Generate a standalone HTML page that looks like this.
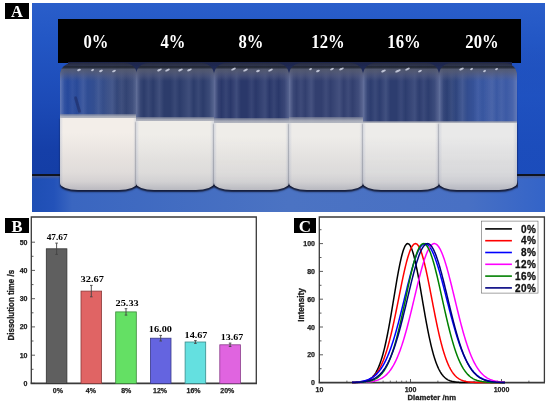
<!DOCTYPE html>
<html><head><meta charset="utf-8"><style>
*{margin:0;padding:0;box-sizing:border-box}
html,body{width:550px;height:404px;overflow:hidden;background:#fff}
body{position:relative;font-family:"Liberation Sans",Arial,sans-serif}
.tag{position:absolute;background:#000;color:#fff;font-family:"Liberation Serif",serif;font-weight:bold;text-align:center}
#photo{position:absolute;left:31.6px;top:3.3px;width:513.9px;height:208.7px;overflow:hidden;
 background:linear-gradient(180deg,#2a5eca 0%,#2357c5 17%,#1c4ab6 48%,#153fa8 70%,#143ea6 82%)}
#table{position:absolute;left:0;top:170.6px;width:100%;height:40px;background:linear-gradient(180deg,#10141f 0,#10141f 1.8px,rgba(80,95,140,.8) 2.4px,rgba(0,0,0,0) 5px),linear-gradient(90deg,#1e4eb4 0,#2352b9 22px,#3a66c0 40px,#4b73c3 50%,#4870c4 85%,#3464c8 100%)}
#rwall{position:absolute;left:486px;top:40px;width:29px;height:131px;background:linear-gradient(180deg,rgba(40,95,205,0) 0,rgba(32,84,196,.7) 40%,rgba(28,78,190,.9) 100%)}
#band{position:absolute;left:26.5px;top:16px;width:463px;height:44px;background:#000}
.lab{position:absolute;top:29px;width:60px;text-align:center;color:#fff;font-family:"Liberation Serif",serif;font-weight:bold;font-size:17.9px;line-height:20px;transform:scaleX(0.93)}
.vial{position:absolute;top:60px;height:127px}
.men{position:absolute;left:0;width:100%;background:linear-gradient(180deg,rgba(130,135,155,.55),rgba(175,178,188,.9) 60%,rgba(195,198,204,.95))}
.sp{position:absolute;height:2px;border-radius:50%;background:rgba(225,230,245,.75);transform:rotate(-25deg)}
.glass{position:absolute;left:0;top:0;width:100%;border-radius:12px 12px 0 0;
 background:linear-gradient(180deg,rgba(38,42,62,.97) 0,rgba(45,50,72,.95) 2.5px,rgba(35,40,52,.95) 3.5px,rgba(40,45,58,.92) 5px,rgba(85,90,108,.88) 6px,rgba(88,93,115,.75) 9px,rgba(90,95,125,.45) 13px,rgba(0,0,0,0) 18px),
 linear-gradient(90deg,rgba(170,180,215,.45) 0%,rgba(170,180,215,.25) 3%,rgba(170,180,215,.08) 6%,rgba(170,180,215,0) 10%,rgba(170,180,215,.1) 16%,rgba(170,180,215,0) 22%,rgba(170,180,215,.16) 30%,rgba(170,180,215,0) 36%,rgba(170,180,215,0) 44%,rgba(170,180,215,.1) 50%,rgba(170,180,215,0) 56%,rgba(170,180,215,.15) 68%,rgba(170,180,215,0) 74%,rgba(170,180,215,.1) 80%,rgba(170,180,215,0) 86%,rgba(170,180,215,.12) 94%,rgba(170,180,215,.35) 100%),var(--gb)}
.liq{position:absolute;left:0;bottom:0;width:100%;border-radius:0 0 18px 18px/0 0 7px 7px;box-shadow:0 1.8px 1.6px rgba(15,18,40,.88);
 background:linear-gradient(180deg,rgba(110,110,125,0) 20%,rgba(110,110,125,.05) 40%,rgba(110,110,125,.1) 58%,rgba(110,112,130,.14) 75%,rgba(105,108,130,.22) 88%,rgba(95,100,125,.38) 100%),linear-gradient(90deg,#d5d7de 0%,rgba(228,228,227,0) 4%,rgba(0,0,0,0) 95%,#d3d6dd 100%),var(--lb)}
svg{position:absolute;left:0;top:0}
.bv{font-family:"Liberation Serif",serif;font-weight:bold;font-size:8.9px;text-anchor:middle}
.bx{font-family:"Liberation Sans",sans-serif;font-weight:bold;font-size:7px;text-anchor:middle;fill:#222;stroke:#222;stroke-width:.25px}
.by{font-family:"Liberation Sans",sans-serif;font-weight:bold;font-size:7px;text-anchor:end;fill:#222;stroke:#222;stroke-width:.25px}
.ax{font-family:"Liberation Sans",sans-serif;font-weight:bold;font-size:8px;fill:#222;stroke:#222;stroke-width:.3px}
.lg{font-family:"Liberation Sans",sans-serif;font-weight:bold;font-size:10px;letter-spacing:0.5px;text-anchor:end;fill:#111;stroke:#111;stroke-width:.3px}
</style></head><body>
<div class="tag" style="left:5.1px;top:3.05px;width:23.6px;height:15.5px;font-size:16.5px;line-height:17px">A</div>
<div id="photo">
<div id="rwall"></div>
<div id="table"></div>
<div id="band"></div>
<div style="position:absolute;left:36px;top:59px;width:444px;height:16px;background:linear-gradient(180deg,#1c2448,#25336a)"></div>
<div style="position:absolute;left:30px;top:176px;width:456px;height:10px;background:linear-gradient(180deg,rgba(25,30,60,.0),rgba(25,30,60,.8) 45%,rgba(25,30,60,.8) 70%,rgba(25,30,60,0))"></div>
<div class="vial" style="left:28.9px;width:76.5px;"><div class="glass" style="height:55.0px;--gb:linear-gradient(90deg,#284b9e 0%,#26489b 15%,#36508f 50%,#334474 80%,#314170 100%)"></div><div class="men" style="top:51.0px;height:4.0px"></div><div class="liq" style="top:55.0px;--lb:#f3eee9"></div></div>
<div class="vial" style="left:104.9px;width:77.5px;"><div class="glass" style="height:58.0px;--gb:#2c3c6b"></div><div class="men" style="top:54.2px;height:3.8px"></div><div class="liq" style="top:58.0px;--lb:#efede9"></div></div>
<div class="vial" style="left:182.0px;width:75.9px;"><div class="glass" style="height:59.5px;--gb:#2a386a"></div><div class="men" style="top:55.0px;height:4.5px"></div><div class="liq" style="top:59.5px;--lb:#efede9"></div></div>
<div class="vial" style="left:257.4px;width:74.0px;"><div class="glass" style="height:60.0px;--gb:#323f6f"></div><div class="men" style="top:54.0px;height:6.0px"></div><div class="liq" style="top:60.0px;--lb:#eeece9"></div></div>
<div class="vial" style="left:331.0px;width:76.7px;"><div class="glass" style="height:59.8px;--gb:#2d3d6f"></div><div class="men" style="top:57.8px;height:2.0px"></div><div class="liq" style="top:59.8px;--lb:#edecea"></div></div>
<div class="vial" style="left:407.2px;width:78.3px;"><div class="glass" style="height:59.5px;--gb:linear-gradient(90deg,#2a3c70 0%,#2d4176 15%,#37559f 50%,#3c5aa5 85%,#3a58a5 100%)"></div><div class="men" style="top:57.3px;height:2.2px"></div><div class="liq" style="top:59.5px;--lb:#e9e9e9"></div></div>
<div class="sp" style="left:45.7px;top:65.6px;width:3.9px"></div>
<div class="sp" style="left:59.4px;top:65.8px;width:3.2px"></div>
<div class="sp" style="left:67.2px;top:66.3px;width:3.6px"></div>
<div class="sp" style="left:80.1px;top:66.7px;width:4.2px"></div>
<div class="sp" style="left:125.6px;top:65.4px;width:4.6px"></div>
<div class="sp" style="left:133.0px;top:65.8px;width:5.2px"></div>
<div class="sp" style="left:146.9px;top:66.1px;width:4.7px"></div>
<div class="sp" style="left:155.7px;top:66.1px;width:4.5px"></div>
<div class="sp" style="left:199.0px;top:64.3px;width:5.2px"></div>
<div class="sp" style="left:211.4px;top:66.0px;width:5.2px"></div>
<div class="sp" style="left:224.3px;top:66.5px;width:4.0px"></div>
<div class="sp" style="left:236.2px;top:65.3px;width:5.3px"></div>
<div class="sp" style="left:277.4px;top:64.4px;width:3.3px"></div>
<div class="sp" style="left:284.6px;top:66.6px;width:4.1px"></div>
<div class="sp" style="left:298.1px;top:65.0px;width:4.3px"></div>
<div class="sp" style="left:307.8px;top:65.1px;width:4.5px"></div>
<div class="sp" style="left:349.9px;top:66.5px;width:4.7px"></div>
<div class="sp" style="left:363.5px;top:66.3px;width:5.5px"></div>
<div class="sp" style="left:373.5px;top:64.6px;width:5.2px"></div>
<div class="sp" style="left:386.8px;top:66.5px;width:4.4px"></div>
<div class="sp" style="left:427.3px;top:64.7px;width:5.1px"></div>
<div class="sp" style="left:438.2px;top:64.9px;width:3.2px"></div>
<div class="sp" style="left:451.7px;top:66.7px;width:3.2px"></div>
<div class="sp" style="left:463.1px;top:65.2px;width:3.4px"></div>
<div style="position:absolute;left:44.2px;top:92.7px;width:3px;height:17px;background:rgba(25,35,90,.5);transform:rotate(-16deg);border-radius:1.5px;filter:blur(.5px)"></div>
<div class="lab" style="left:34.9px">0%</div>
<div class="lab" style="left:111.5px">4%</div>
<div class="lab" style="left:189.2px">8%</div>
<div class="lab" style="left:266.6px">12%</div>
<div class="lab" style="left:342.6px">16%</div>
<div class="lab" style="left:420.4px">20%</div>
</div>
<svg width="550" height="404" viewBox="0 0 550 404">
<path d="M31.3 383.4V217H256.3V383.4" fill="none" stroke="#3a3a3a" stroke-width="1.3"/><path d="M30.6 383.4H257" stroke="#3a3a3a" stroke-width="1.8"/>
<rect x="46.3" y="248.8" width="20.6" height="134.6" fill="#5f5f5f" stroke="#333" stroke-width="0.8"/>
<path d="M56.6 243.1V254.4M55.3 243.1H57.9M55.3 254.4H57.9" stroke="#444" stroke-width="0.9" fill="none"/>
<text x="57.2" y="239.7" class="bv" textLength="21.0" lengthAdjust="spacingAndGlyphs">47.67</text>
<text x="57.8" y="392.6" class="bx">0%</text>
<rect x="81.0" y="291.1" width="20.6" height="92.3" fill="#e06464" stroke="#8a3a3a" stroke-width="0.8"/>
<path d="M91.3 285.4V296.8M90.0 285.4H92.6M90.0 296.8H92.6" stroke="#444" stroke-width="0.9" fill="none"/>
<text x="92.2" y="282.2" class="bv" textLength="23.5" lengthAdjust="spacingAndGlyphs">32.67</text>
<text x="90.9" y="392.6" class="bx">4%</text>
<rect x="115.7" y="311.9" width="20.6" height="71.5" fill="#64e064" stroke="#3a8a3a" stroke-width="0.8"/>
<path d="M126.0 308.7V315.1M124.7 308.7H127.3M124.7 315.1H127.3" stroke="#444" stroke-width="0.9" fill="none"/>
<text x="127.1" y="305.5" class="bv" textLength="23.2" lengthAdjust="spacingAndGlyphs">25.33</text>
<text x="126.2" y="392.6" class="bx">8%</text>
<rect x="150.4" y="338.2" width="20.6" height="45.2" fill="#6464e0" stroke="#3a3a8a" stroke-width="0.8"/>
<path d="M160.7 335.4V341.0M159.4 335.4H162.0M159.4 341.0H162.0" stroke="#444" stroke-width="0.9" fill="none"/>
<text x="160.4" y="332.0" class="bv" textLength="23.2" lengthAdjust="spacingAndGlyphs">16.00</text>
<text x="160.0" y="392.6" class="bx">12%</text>
<rect x="185.1" y="342.0" width="20.6" height="41.4" fill="#64e0e0" stroke="#3a8a8a" stroke-width="0.8"/>
<path d="M195.4 340.6V343.4M194.1 340.6H196.7M194.1 343.4H196.7" stroke="#444" stroke-width="0.9" fill="none"/>
<text x="196.0" y="337.7" class="bv" textLength="22.9" lengthAdjust="spacingAndGlyphs">14.67</text>
<text x="193.6" y="392.6" class="bx">16%</text>
<rect x="219.8" y="344.8" width="20.6" height="38.6" fill="#e064e0" stroke="#8a3a8a" stroke-width="0.8"/>
<path d="M230.1 343.1V346.5M228.8 343.1H231.4M228.8 346.5H231.4" stroke="#444" stroke-width="0.9" fill="none"/>
<text x="232.0" y="340.3" class="bv" textLength="22.6" lengthAdjust="spacingAndGlyphs">13.67</text>
<text x="227.3" y="392.6" class="bx">20%</text>
<path d="M31.5 383.4H35" stroke="#333" stroke-width="0.8"/>
<text x="27.5" y="385.9" class="by">0</text>
<path d="M31.5 369.3H33.5" stroke="#333" stroke-width="0.8"/>
<path d="M31.5 355.2H35" stroke="#333" stroke-width="0.8"/>
<text x="27.5" y="357.7" class="by">10</text>
<path d="M31.5 341.0H33.5" stroke="#333" stroke-width="0.8"/>
<path d="M31.5 326.9H35" stroke="#333" stroke-width="0.8"/>
<text x="27.5" y="329.4" class="by">20</text>
<path d="M31.5 312.8H33.5" stroke="#333" stroke-width="0.8"/>
<path d="M31.5 298.7H35" stroke="#333" stroke-width="0.8"/>
<text x="27.5" y="301.2" class="by">30</text>
<path d="M31.5 284.6H33.5" stroke="#333" stroke-width="0.8"/>
<path d="M31.5 270.4H35" stroke="#333" stroke-width="0.8"/>
<text x="27.5" y="272.9" class="by">40</text>
<path d="M31.5 256.3H33.5" stroke="#333" stroke-width="0.8"/>
<path d="M31.5 242.2H35" stroke="#333" stroke-width="0.8"/>
<text x="27.5" y="244.7" class="by">50</text>
<text class="ax" transform="translate(14.3,305.2) rotate(-90)" text-anchor="middle" textLength="70.5" lengthAdjust="spacingAndGlyphs" style="font-size:8.7px">Dissolution time /s</text>
<path d="M319.3 382.6V217H544.4V382.6" fill="none" stroke="#3a3a3a" stroke-width="1.3"/><path d="M318.6 382.6H545" stroke="#3a3a3a" stroke-width="1.8"/>
<path d="M319.5 382.6H323" stroke="#333" stroke-width="0.8"/>
<text x="315" y="385.1" class="by">0</text>
<path d="M319.5 368.7H321.5" stroke="#333" stroke-width="0.8"/>
<path d="M319.5 354.8H323" stroke="#333" stroke-width="0.8"/>
<text x="315" y="357.3" class="by">20</text>
<path d="M319.5 340.9H321.5" stroke="#333" stroke-width="0.8"/>
<path d="M319.5 327.0H323" stroke="#333" stroke-width="0.8"/>
<text x="315" y="329.5" class="by">40</text>
<path d="M319.5 313.1H321.5" stroke="#333" stroke-width="0.8"/>
<path d="M319.5 299.2H323" stroke="#333" stroke-width="0.8"/>
<text x="315" y="301.7" class="by">60</text>
<path d="M319.5 285.3H321.5" stroke="#333" stroke-width="0.8"/>
<path d="M319.5 271.4H323" stroke="#333" stroke-width="0.8"/>
<text x="315" y="273.9" class="by">80</text>
<path d="M319.5 257.5H321.5" stroke="#333" stroke-width="0.8"/>
<path d="M319.5 243.6H323" stroke="#333" stroke-width="0.8"/>
<text x="315" y="246.1" class="by">100</text>
<path d="M319.5 229.7H321.5" stroke="#333" stroke-width="0.8"/>
<path d="M319.5 382.6V379" stroke="#333" stroke-width="0.8"/>
<text x="319.5" y="391.8" class="bx">10</text>
<path d="M410.5 382.6V379" stroke="#333" stroke-width="0.8"/>
<text x="410.5" y="391.8" class="bx">100</text>
<path d="M501.5 382.6V379" stroke="#333" stroke-width="0.8"/>
<text x="501.5" y="391.8" class="bx">1000</text>
<path d="M346.9 382.6V380.6" stroke="#333" stroke-width="0.7"/>
<path d="M362.9 382.6V380.6" stroke="#333" stroke-width="0.7"/>
<path d="M374.3 382.6V380.6" stroke="#333" stroke-width="0.7"/>
<path d="M383.1 382.6V380.6" stroke="#333" stroke-width="0.7"/>
<path d="M390.3 382.6V380.6" stroke="#333" stroke-width="0.7"/>
<path d="M396.4 382.6V380.6" stroke="#333" stroke-width="0.7"/>
<path d="M401.7 382.6V380.6" stroke="#333" stroke-width="0.7"/>
<path d="M406.3 382.6V380.6" stroke="#333" stroke-width="0.7"/>
<path d="M437.9 382.6V380.6" stroke="#333" stroke-width="0.7"/>
<path d="M453.9 382.6V380.6" stroke="#333" stroke-width="0.7"/>
<path d="M465.3 382.6V380.6" stroke="#333" stroke-width="0.7"/>
<path d="M474.1 382.6V380.6" stroke="#333" stroke-width="0.7"/>
<path d="M481.3 382.6V380.6" stroke="#333" stroke-width="0.7"/>
<path d="M487.4 382.6V380.6" stroke="#333" stroke-width="0.7"/>
<path d="M492.7 382.6V380.6" stroke="#333" stroke-width="0.7"/>
<path d="M497.3 382.6V380.6" stroke="#333" stroke-width="0.7"/>
<path d="M528.9 382.6V380.6" stroke="#333" stroke-width="0.7"/>
<polyline fill="none" stroke="#000000" stroke-width="1.5" points="352.0,382.55 352.5,382.55 353.0,382.54 353.5,382.53 354.0,382.52 354.5,382.51 355.0,382.49 355.5,382.48 356.0,382.46 356.5,382.44 357.0,382.42 357.5,382.40 358.0,382.37 358.5,382.34 359.0,382.30 359.5,382.26 360.0,382.21 360.5,382.16 361.0,382.11 361.5,382.05 362.0,381.98 362.5,381.90 363.0,381.81 363.5,381.71 364.0,381.61 364.5,381.49 365.0,381.36 365.5,381.21 366.0,381.06 366.5,380.88 367.0,380.69 367.5,380.48 368.0,380.25 368.5,379.99 369.0,379.72 369.5,379.42 370.0,379.09 370.5,378.73 371.0,378.34 371.5,377.92 372.0,377.46 372.5,376.97 373.0,376.44 373.5,375.86 374.0,375.24 374.5,374.58 375.0,373.87 375.5,373.10 376.0,372.28 376.5,371.41 377.0,370.47 377.5,369.48 378.0,368.42 378.5,367.30 379.0,366.11 379.5,364.85 380.0,363.52 380.5,362.11 381.0,360.63 381.5,359.07 382.0,357.44 382.5,355.73 383.0,353.94 383.5,352.06 384.0,350.11 384.5,348.08 385.0,345.97 385.5,343.77 386.0,341.51 386.5,339.16 387.0,336.74 387.5,334.25 388.0,331.69 388.5,329.06 389.0,326.37 389.5,323.62 390.0,320.81 390.5,317.96 391.0,315.06 391.5,312.12 392.0,309.15 392.5,306.15 393.0,303.14 393.5,300.11 394.0,297.08 394.5,294.05 395.0,291.03 395.5,288.03 396.0,285.06 396.5,282.13 397.0,279.24 397.5,276.41 398.0,273.64 398.5,270.94 399.0,268.33 399.5,265.80 400.0,263.37 400.5,261.05 401.0,258.84 401.5,256.76 402.0,254.81 402.5,252.99 403.0,251.32 403.5,249.80 404.0,248.44 404.5,247.24 405.0,246.20 405.5,245.33 406.0,244.64 406.5,244.12 407.0,243.78 407.5,243.61 408.0,243.63 408.5,243.81 409.0,244.17 409.5,244.68 410.0,245.36 410.5,246.20 411.0,247.20 411.5,248.36 412.0,249.66 412.5,251.11 413.0,252.70 413.5,254.43 414.0,256.29 414.5,258.27 415.0,260.36 415.5,262.57 416.0,264.87 416.5,267.28 417.0,269.77 417.5,272.33 418.0,274.97 418.5,277.68 419.0,280.44 419.5,283.24 420.0,286.09 420.5,288.96 421.0,291.86 421.5,294.78 422.0,297.71 422.5,300.63 423.0,303.55 423.5,306.46 424.0,309.35 424.5,312.22 425.0,315.05 425.5,317.85 426.0,320.61 426.5,323.32 427.0,325.98 427.5,328.59 428.0,331.14 428.5,333.63 429.0,336.05 429.5,338.41 430.0,340.70 430.5,342.91 431.0,345.06 431.5,347.13 432.0,349.13 432.5,351.05 433.0,352.90 433.5,354.68 434.0,356.38 434.5,358.00 435.0,359.56 435.5,361.04 436.0,362.45 436.5,363.79 437.0,365.06 437.5,366.27 438.0,367.41 438.5,368.49 439.0,369.51 439.5,370.46 440.0,371.37 440.5,372.22 441.0,373.01 441.5,373.76 442.0,374.45 442.5,375.10 443.0,375.71 443.5,376.28 444.0,376.80 444.5,377.29 445.0,377.75 445.5,378.17 446.0,378.56 446.5,378.91 447.0,379.25 447.5,379.55 448.0,379.83 448.5,380.09 449.0,380.33 449.5,380.54 450.0,380.74 450.5,380.92 451.0,381.09 451.5,381.24 452.0,381.38 452.5,381.50 453.0,381.61 453.5,381.72 454.0,381.81 454.5,381.89 455.0,381.97 455.5,382.04 456.0,382.10 456.5,382.15 457.0,382.20 457.5,382.25 458.0,382.29 458.5,382.32 459.0,382.36 459.5,382.38 460.0,382.41 460.5,382.43 461.0,382.45 461.5,382.47 462.0,382.49 462.5,382.50 463.0,382.51 463.5,382.52 464.0,382.53 464.5,382.54 465.0,382.55 465.5,382.56 466.0,382.56 466.5,382.57 467.0,382.57 467.5,382.57 468.0,382.58 468.5,382.58 469.0,382.58 469.5,382.59 470.0,382.59 470.5,382.59 471.0,382.59 471.5,382.59 472.0,382.59 472.5,382.59 473.0,382.60 473.5,382.60 474.0,382.60 474.5,382.60 475.0,382.60 475.5,382.60 476.0,382.60 476.5,382.60 477.0,382.60 477.5,382.60 478.0,382.60 478.5,382.60 479.0,382.60 479.5,382.60 480.0,382.60 480.5,382.60 481.0,382.60 481.5,382.60 482.0,382.60 482.5,382.60 483.0,382.60 483.5,382.60 484.0,382.60 484.5,382.60 485.0,382.60 485.5,382.60 486.0,382.60 486.5,382.60 487.0,382.60 487.5,382.60 488.0,382.60 488.5,382.60 489.0,382.60 489.5,382.60 490.0,382.60 490.5,382.60 491.0,382.60 491.5,382.60 492.0,382.60 492.5,382.60 493.0,382.60 493.5,382.60 494.0,382.60 494.5,382.60 495.0,382.60 495.5,382.60 496.0,382.60 496.5,382.60 497.0,382.60 497.5,382.60 498.0,382.60 498.5,382.60 499.0,382.60 499.5,382.60 500.0,382.60 500.5,382.60 501.0,382.60 501.5,382.60 502.0,382.60 502.5,382.60 503.0,382.60 503.5,382.60 504.0,382.60 504.5,382.60 505.0,382.60"/>
<polyline fill="none" stroke="#ff0000" stroke-width="1.5" points="352.0,382.49 352.5,382.48 353.0,382.46 353.5,382.45 354.0,382.43 354.5,382.41 355.0,382.39 355.5,382.36 356.0,382.34 356.5,382.31 357.0,382.28 357.5,382.24 358.0,382.20 358.5,382.16 359.0,382.11 359.5,382.06 360.0,382.01 360.5,381.95 361.0,381.88 361.5,381.81 362.0,381.73 362.5,381.64 363.0,381.55 363.5,381.44 364.0,381.33 364.5,381.21 365.0,381.08 365.5,380.94 366.0,380.79 366.5,380.62 367.0,380.45 367.5,380.25 368.0,380.05 368.5,379.82 369.0,379.58 369.5,379.33 370.0,379.05 370.5,378.75 371.0,378.44 371.5,378.10 372.0,377.73 372.5,377.35 373.0,376.93 373.5,376.49 374.0,376.02 374.5,375.53 375.0,375.00 375.5,374.43 376.0,373.84 376.5,373.21 377.0,372.54 377.5,371.83 378.0,371.09 378.5,370.30 379.0,369.48 379.5,368.61 380.0,367.69 380.5,366.73 381.0,365.72 381.5,364.67 382.0,363.56 382.5,362.41 383.0,361.20 383.5,359.94 384.0,358.63 384.5,357.27 385.0,355.85 385.5,354.38 386.0,352.85 386.5,351.27 387.0,349.63 387.5,347.94 388.0,346.19 388.5,344.39 389.0,342.54 389.5,340.63 390.0,338.67 390.5,336.66 391.0,334.60 391.5,332.50 392.0,330.34 392.5,328.15 393.0,325.91 393.5,323.63 394.0,321.31 394.5,318.96 395.0,316.58 395.5,314.17 396.0,311.73 396.5,309.27 397.0,306.80 397.5,304.30 398.0,301.80 398.5,299.30 399.0,296.79 399.5,294.28 400.0,291.78 400.5,289.29 401.0,286.82 401.5,284.38 402.0,281.95 402.5,279.56 403.0,277.21 403.5,274.90 404.0,272.63 404.5,270.42 405.0,268.26 405.5,266.17 406.0,264.14 406.5,262.18 407.0,260.30 407.5,258.50 408.0,256.78 408.5,255.16 409.0,253.62 409.5,252.19 410.0,250.85 410.5,249.62 411.0,248.50 411.5,247.48 412.0,246.58 412.5,245.80 413.0,245.13 413.5,244.58 414.0,244.15 414.5,243.85 415.0,243.66 415.5,243.60 416.0,243.67 416.5,243.86 417.0,244.19 417.5,244.66 418.0,245.25 418.5,245.96 419.0,246.81 419.5,247.77 420.0,248.86 420.5,250.07 421.0,251.38 421.5,252.81 422.0,254.35 422.5,255.99 423.0,257.73 423.5,259.56 424.0,261.47 424.5,263.48 425.0,265.56 425.5,267.71 426.0,269.93 426.5,272.22 427.0,274.56 427.5,276.95 428.0,279.39 428.5,281.86 429.0,284.38 429.5,286.92 430.0,289.48 430.5,292.06 431.0,294.65 431.5,297.25 432.0,299.85 432.5,302.45 433.0,305.04 433.5,307.62 434.0,310.18 434.5,312.73 435.0,315.24 435.5,317.73 436.0,320.18 436.5,322.60 437.0,324.98 437.5,327.32 438.0,329.62 438.5,331.86 439.0,334.06 439.5,336.21 440.0,338.30 440.5,340.34 441.0,342.33 441.5,344.26 442.0,346.13 442.5,347.94 443.0,349.69 443.5,351.39 444.0,353.02 444.5,354.60 445.0,356.12 445.5,357.58 446.0,358.98 446.5,360.32 447.0,361.61 447.5,362.84 448.0,364.02 448.5,365.14 449.0,366.22 449.5,367.24 450.0,368.21 450.5,369.13 451.0,370.00 451.5,370.83 452.0,371.62 452.5,372.36 453.0,373.06 453.5,373.72 454.0,374.35 454.5,374.93 455.0,375.49 455.5,376.01 456.0,376.49 456.5,376.95 457.0,377.38 457.5,377.78 458.0,378.15 458.5,378.50 459.0,378.82 459.5,379.12 460.0,379.40 460.5,379.67 461.0,379.91 461.5,380.13 462.0,380.34 462.5,380.53 463.0,380.71 463.5,380.88 464.0,381.03 464.5,381.17 465.0,381.29 465.5,381.41 466.0,381.52 466.5,381.62 467.0,381.71 467.5,381.80 468.0,381.87 468.5,381.94 469.0,382.00 469.5,382.06 470.0,382.12 470.5,382.16 471.0,382.21 471.5,382.25 472.0,382.28 472.5,382.32 473.0,382.34 473.5,382.37 474.0,382.40 474.5,382.42 475.0,382.44 475.5,382.45 476.0,382.47 476.5,382.48 477.0,382.50 477.5,382.51 478.0,382.52 478.5,382.53 479.0,382.54 479.5,382.54 480.0,382.55 480.5,382.56 481.0,382.56 481.5,382.57 482.0,382.57 482.5,382.57 483.0,382.58 483.5,382.58 484.0,382.58 484.5,382.58 485.0,382.59 485.5,382.59 486.0,382.59 486.5,382.59 487.0,382.59 487.5,382.59 488.0,382.59 488.5,382.59 489.0,382.60 489.5,382.60 490.0,382.60 490.5,382.60 491.0,382.60 491.5,382.60 492.0,382.60 492.5,382.60 493.0,382.60 493.5,382.60 494.0,382.60 494.5,382.60 495.0,382.60 495.5,382.60 496.0,382.60 496.5,382.60 497.0,382.60 497.5,382.60 498.0,382.60 498.5,382.60 499.0,382.60 499.5,382.60 500.0,382.60 500.5,382.60 501.0,382.60 501.5,382.60 502.0,382.60 502.5,382.60 503.0,382.60 503.5,382.60 504.0,382.60 504.5,382.60 505.0,382.60"/>
<polyline fill="none" stroke="#0000ff" stroke-width="1.5" points="352.0,382.35 352.5,382.33 353.0,382.31 353.5,382.28 354.0,382.25 354.5,382.22 355.0,382.19 355.5,382.16 356.0,382.12 356.5,382.08 357.0,382.03 357.5,381.99 358.0,381.93 358.5,381.88 359.0,381.82 359.5,381.76 360.0,381.69 360.5,381.62 361.0,381.54 361.5,381.45 362.0,381.36 362.5,381.27 363.0,381.17 363.5,381.06 364.0,380.94 364.5,380.81 365.0,380.68 365.5,380.54 366.0,380.39 366.5,380.23 367.0,380.06 367.5,379.88 368.0,379.69 368.5,379.48 369.0,379.27 369.5,379.04 370.0,378.80 370.5,378.54 371.0,378.27 371.5,377.99 372.0,377.68 372.5,377.37 373.0,377.03 373.5,376.68 374.0,376.30 374.5,375.91 375.0,375.50 375.5,375.07 376.0,374.61 376.5,374.14 377.0,373.64 377.5,373.11 378.0,372.56 378.5,371.99 379.0,371.39 379.5,370.76 380.0,370.11 380.5,369.42 381.0,368.71 381.5,367.97 382.0,367.20 382.5,366.39 383.0,365.56 383.5,364.69 384.0,363.79 384.5,362.85 385.0,361.89 385.5,360.88 386.0,359.84 386.5,358.77 387.0,357.66 387.5,356.51 388.0,355.33 388.5,354.11 389.0,352.86 389.5,351.57 390.0,350.24 390.5,348.87 391.0,347.47 391.5,346.03 392.0,344.55 392.5,343.04 393.0,341.49 393.5,339.91 394.0,338.29 394.5,336.64 395.0,334.96 395.5,333.24 396.0,331.50 396.5,329.72 397.0,327.91 397.5,326.07 398.0,324.21 398.5,322.32 399.0,320.41 399.5,318.48 400.0,316.52 400.5,314.55 401.0,312.55 401.5,310.55 402.0,308.52 402.5,306.49 403.0,304.45 403.5,302.40 404.0,300.35 404.5,298.29 405.0,296.24 405.5,294.18 406.0,292.13 406.5,290.09 407.0,288.06 407.5,286.05 408.0,284.04 408.5,282.06 409.0,280.10 409.5,278.16 410.0,276.25 410.5,274.36 411.0,272.51 411.5,270.70 412.0,268.92 412.5,267.18 413.0,265.49 413.5,263.84 414.0,262.24 414.5,260.69 415.0,259.19 415.5,257.75 416.0,256.37 416.5,255.05 417.0,253.79 417.5,252.60 418.0,251.47 418.5,250.41 419.0,249.43 419.5,248.51 420.0,247.67 420.5,246.91 421.0,246.22 421.5,245.61 422.0,245.08 422.5,244.63 423.0,244.26 423.5,243.97 424.0,243.77 424.5,243.64 425.0,243.60 425.5,243.64 426.0,243.75 426.5,243.94 427.0,244.20 427.5,244.54 428.0,244.95 428.5,245.43 429.0,245.98 429.5,246.61 430.0,247.31 430.5,248.07 431.0,248.91 431.5,249.81 432.0,250.78 432.5,251.81 433.0,252.90 433.5,254.05 434.0,255.26 434.5,256.53 435.0,257.85 435.5,259.23 436.0,260.65 436.5,262.13 437.0,263.65 437.5,265.21 438.0,266.82 438.5,268.47 439.0,270.15 439.5,271.87 440.0,273.63 440.5,275.41 441.0,277.22 441.5,279.06 442.0,280.92 442.5,282.80 443.0,284.69 443.5,286.61 444.0,288.53 444.5,290.47 445.0,292.42 445.5,294.37 446.0,296.33 446.5,298.29 447.0,300.25 447.5,302.21 448.0,304.16 448.5,306.11 449.0,308.05 449.5,309.98 450.0,311.90 450.5,313.81 451.0,315.70 451.5,317.57 452.0,319.42 452.5,321.26 453.0,323.07 453.5,324.86 454.0,326.63 454.5,328.37 455.0,330.09 455.5,331.78 456.0,333.44 456.5,335.08 457.0,336.68 457.5,338.26 458.0,339.80 458.5,341.31 459.0,342.79 459.5,344.24 460.0,345.65 460.5,347.04 461.0,348.39 461.5,349.70 462.0,350.98 462.5,352.23 463.0,353.45 463.5,354.63 464.0,355.78 464.5,356.89 465.0,357.97 465.5,359.02 466.0,360.04 466.5,361.02 467.0,361.98 467.5,362.90 468.0,363.79 468.5,364.65 469.0,365.48 469.5,366.28 470.0,367.05 470.5,367.79 471.0,368.51 471.5,369.19 472.0,369.86 472.5,370.49 473.0,371.10 473.5,371.69 474.0,372.25 474.5,372.78 475.0,373.30 475.5,373.79 476.0,374.26 476.5,374.71 477.0,375.14 477.5,375.55 478.0,375.94 478.5,376.31 479.0,376.67 479.5,377.01 480.0,377.33 480.5,377.63 481.0,377.92 481.5,378.20 482.0,378.46 482.5,378.71 483.0,378.95 483.5,379.17 484.0,379.38 484.5,379.58 485.0,379.77 485.5,379.95 486.0,380.12 486.5,380.28 487.0,380.43 487.5,380.57 488.0,380.70 488.5,380.83 489.0,380.94 489.5,381.06 490.0,381.16 490.5,381.26 491.0,381.35 491.5,381.44 492.0,381.52 492.5,381.59 493.0,381.66 493.5,381.73 494.0,381.79 494.5,381.85 495.0,381.91 495.5,381.96 496.0,382.00 496.5,382.05 497.0,382.09 497.5,382.13 498.0,382.16 498.5,382.20 499.0,382.23 499.5,382.26 500.0,382.28 500.5,382.31 501.0,382.33 501.5,382.35 502.0,382.37 502.5,382.39 503.0,382.41 503.5,382.42 504.0,382.44 504.5,382.45 505.0,382.46"/>
<polyline fill="none" stroke="#ff00ff" stroke-width="1.5" points="352.0,382.57 352.5,382.57 353.0,382.56 353.5,382.56 354.0,382.56 354.5,382.55 355.0,382.55 355.5,382.54 356.0,382.53 356.5,382.53 357.0,382.52 357.5,382.51 358.0,382.50 358.5,382.49 359.0,382.48 359.5,382.47 360.0,382.46 360.5,382.45 361.0,382.43 361.5,382.42 362.0,382.40 362.5,382.38 363.0,382.36 363.5,382.34 364.0,382.31 364.5,382.29 365.0,382.26 365.5,382.23 366.0,382.19 366.5,382.16 367.0,382.12 367.5,382.07 368.0,382.03 368.5,381.98 369.0,381.93 369.5,381.87 370.0,381.81 370.5,381.74 371.0,381.67 371.5,381.60 372.0,381.51 372.5,381.43 373.0,381.33 373.5,381.23 374.0,381.12 374.5,381.01 375.0,380.89 375.5,380.75 376.0,380.61 376.5,380.47 377.0,380.31 377.5,380.14 378.0,379.96 378.5,379.76 379.0,379.56 379.5,379.34 380.0,379.11 380.5,378.87 381.0,378.61 381.5,378.34 382.0,378.05 382.5,377.74 383.0,377.42 383.5,377.08 384.0,376.72 384.5,376.34 385.0,375.94 385.5,375.52 386.0,375.07 386.5,374.61 387.0,374.12 387.5,373.60 388.0,373.07 388.5,372.50 389.0,371.91 389.5,371.29 390.0,370.64 390.5,369.97 391.0,369.26 391.5,368.52 392.0,367.75 392.5,366.95 393.0,366.12 393.5,365.25 394.0,364.35 394.5,363.41 395.0,362.44 395.5,361.43 396.0,360.38 396.5,359.30 397.0,358.18 397.5,357.02 398.0,355.83 398.5,354.59 399.0,353.32 399.5,352.01 400.0,350.66 400.5,349.27 401.0,347.84 401.5,346.38 402.0,344.87 402.5,343.33 403.0,341.75 403.5,340.14 404.0,338.48 404.5,336.79 405.0,335.07 405.5,333.31 406.0,331.52 406.5,329.70 407.0,327.85 407.5,325.96 408.0,324.05 408.5,322.11 409.0,320.15 409.5,318.16 410.0,316.16 410.5,314.13 411.0,312.08 411.5,310.02 412.0,307.95 412.5,305.86 413.0,303.76 413.5,301.66 414.0,299.56 414.5,297.45 415.0,295.34 415.5,293.24 416.0,291.14 416.5,289.06 417.0,286.98 417.5,284.92 418.0,282.88 418.5,280.86 419.0,278.86 419.5,276.89 420.0,274.95 420.5,273.05 421.0,271.17 421.5,269.34 422.0,267.55 422.5,265.80 423.0,264.11 423.5,262.46 424.0,260.86 424.5,259.32 425.0,257.84 425.5,256.42 426.0,255.07 426.5,253.78 427.0,252.56 427.5,251.41 428.0,250.33 428.5,249.32 429.0,248.40 429.5,247.55 430.0,246.78 430.5,246.09 431.0,245.48 431.5,244.96 432.0,244.52 432.5,244.16 433.0,243.89 433.5,243.71 434.0,243.62 434.5,243.61 435.0,243.68 435.5,243.84 436.0,244.09 436.5,244.41 437.0,244.82 437.5,245.32 438.0,245.89 438.5,246.54 439.0,247.28 439.5,248.09 440.0,248.97 440.5,249.93 441.0,250.97 441.5,252.07 442.0,253.25 442.5,254.49 443.0,255.80 443.5,257.17 444.0,258.60 444.5,260.08 445.0,261.63 445.5,263.22 446.0,264.87 446.5,266.57 447.0,268.31 447.5,270.09 448.0,271.91 448.5,273.77 449.0,275.66 449.5,277.58 450.0,279.53 450.5,281.51 451.0,283.50 451.5,285.52 452.0,287.55 452.5,289.60 453.0,291.66 453.5,293.73 454.0,295.80 454.5,297.88 455.0,299.95 455.5,302.03 456.0,304.10 456.5,306.16 457.0,308.21 457.5,310.26 458.0,312.29 458.5,314.30 459.0,316.30 459.5,318.27 460.0,320.23 460.5,322.16 461.0,324.07 461.5,325.95 462.0,327.81 462.5,329.64 463.0,331.43 463.5,333.20 464.0,334.93 464.5,336.64 465.0,338.30 465.5,339.94 466.0,341.53 466.5,343.09 467.0,344.62 467.5,346.11 468.0,347.56 468.5,348.97 469.0,350.35 469.5,351.69 470.0,352.99 470.5,354.25 471.0,355.48 471.5,356.67 472.0,357.82 472.5,358.94 473.0,360.02 473.5,361.06 474.0,362.06 474.5,363.04 475.0,363.97 475.5,364.88 476.0,365.75 476.5,366.58 477.0,367.39 477.5,368.16 478.0,368.90 478.5,369.61 479.0,370.29 479.5,370.95 480.0,371.57 480.5,372.17 481.0,372.74 481.5,373.29 482.0,373.81 482.5,374.31 483.0,374.78 483.5,375.23 484.0,375.66 484.5,376.07 485.0,376.46 485.5,376.82 486.0,377.17 486.5,377.50 487.0,377.82 487.5,378.12 488.0,378.40 488.5,378.66 489.0,378.92 489.5,379.15 490.0,379.38 490.5,379.59 491.0,379.79 491.5,379.98 492.0,380.15 492.5,380.32 493.0,380.48 493.5,380.62 494.0,380.76 494.5,380.89 495.0,381.01 495.5,381.12 496.0,381.23 496.5,381.33 497.0,381.42 497.5,381.51 498.0,381.59 498.5,381.66 499.0,381.73 499.5,381.80 500.0,381.86 500.5,381.92 501.0,381.97 501.5,382.02 502.0,382.07 502.5,382.11 503.0,382.15 503.5,382.18 504.0,382.22 504.5,382.25 505.0,382.28"/>
<polyline fill="none" stroke="#008000" stroke-width="1.5" points="352.0,382.56 352.5,382.55 353.0,382.55 353.5,382.54 354.0,382.53 354.5,382.52 355.0,382.52 355.5,382.51 356.0,382.50 356.5,382.48 357.0,382.47 357.5,382.46 358.0,382.44 358.5,382.42 359.0,382.40 359.5,382.38 360.0,382.36 360.5,382.34 361.0,382.31 361.5,382.28 362.0,382.24 362.5,382.21 363.0,382.17 363.5,382.13 364.0,382.08 364.5,382.03 365.0,381.97 365.5,381.91 366.0,381.85 366.5,381.78 367.0,381.70 367.5,381.61 368.0,381.52 368.5,381.43 369.0,381.32 369.5,381.21 370.0,381.08 370.5,380.95 371.0,380.81 371.5,380.65 372.0,380.49 372.5,380.31 373.0,380.12 373.5,379.91 374.0,379.69 374.5,379.46 375.0,379.20 375.5,378.94 376.0,378.65 376.5,378.34 377.0,378.02 377.5,377.67 378.0,377.30 378.5,376.91 379.0,376.49 379.5,376.05 380.0,375.58 380.5,375.09 381.0,374.56 381.5,374.01 382.0,373.42 382.5,372.81 383.0,372.16 383.5,371.47 384.0,370.75 384.5,369.99 385.0,369.20 385.5,368.36 386.0,367.49 386.5,366.58 387.0,365.62 387.5,364.62 388.0,363.58 388.5,362.49 389.0,361.35 389.5,360.17 390.0,358.95 390.5,357.67 391.0,356.35 391.5,354.98 392.0,353.56 392.5,352.09 393.0,350.58 393.5,349.01 394.0,347.40 394.5,345.73 395.0,344.02 395.5,342.26 396.0,340.46 396.5,338.61 397.0,336.71 397.5,334.77 398.0,332.78 398.5,330.76 399.0,328.69 399.5,326.59 400.0,324.45 400.5,322.28 401.0,320.07 401.5,317.84 402.0,315.58 402.5,313.29 403.0,310.99 403.5,308.66 404.0,306.32 404.5,303.97 405.0,301.61 405.5,299.24 406.0,296.87 406.5,294.51 407.0,292.15 407.5,289.80 408.0,287.46 408.5,285.14 409.0,282.85 409.5,280.58 410.0,278.34 410.5,276.14 411.0,273.98 411.5,271.86 412.0,269.78 412.5,267.76 413.0,265.80 413.5,263.89 414.0,262.05 414.5,260.28 415.0,258.58 415.5,256.95 416.0,255.41 416.5,253.94 417.0,252.57 417.5,251.28 418.0,250.08 418.5,248.98 419.0,247.97 419.5,247.07 420.0,246.26 420.5,245.56 421.0,244.96 421.5,244.47 422.0,244.09 422.5,243.82 423.0,243.65 423.5,243.60 424.0,243.65 424.5,243.80 425.0,244.05 425.5,244.40 426.0,244.85 426.5,245.40 427.0,246.04 427.5,246.78 428.0,247.61 428.5,248.53 429.0,249.55 429.5,250.65 430.0,251.83 430.5,253.10 431.0,254.45 431.5,255.88 432.0,257.38 432.5,258.96 433.0,260.60 433.5,262.30 434.0,264.07 434.5,265.90 435.0,267.78 435.5,269.72 436.0,271.70 436.5,273.72 437.0,275.79 437.5,277.89 438.0,280.02 438.5,282.19 439.0,284.38 439.5,286.59 440.0,288.82 440.5,291.06 441.0,293.31 441.5,295.57 442.0,297.84 442.5,300.11 443.0,302.37 443.5,304.63 444.0,306.88 444.5,309.11 445.0,311.33 445.5,313.54 446.0,315.73 446.5,317.89 447.0,320.03 447.5,322.14 448.0,324.22 448.5,326.27 449.0,328.29 449.5,330.27 450.0,332.22 450.5,334.13 451.0,336.00 451.5,337.84 452.0,339.63 452.5,341.38 453.0,343.08 453.5,344.75 454.0,346.36 454.5,347.94 455.0,349.47 455.5,350.96 456.0,352.40 456.5,353.79 457.0,355.15 457.5,356.45 458.0,357.72 458.5,358.93 459.0,360.11 459.5,361.24 460.0,362.33 460.5,363.38 461.0,364.39 461.5,365.35 462.0,366.28 462.5,367.17 463.0,368.02 463.5,368.84 464.0,369.61 464.5,370.36 465.0,371.07 465.5,371.74 466.0,372.38 466.5,373.00 467.0,373.58 467.5,374.13 468.0,374.66 468.5,375.15 469.0,375.62 469.5,376.07 470.0,376.49 470.5,376.89 471.0,377.27 471.5,377.62 472.0,377.96 472.5,378.27 473.0,378.57 473.5,378.85 474.0,379.11 474.5,379.36 475.0,379.59 475.5,379.81 476.0,380.01 476.5,380.20 477.0,380.38 477.5,380.55 478.0,380.70 478.5,380.84 479.0,380.98 479.5,381.10 480.0,381.22 480.5,381.33 481.0,381.43 481.5,381.52 482.0,381.61 482.5,381.69 483.0,381.77 483.5,381.84 484.0,381.90 484.5,381.96 485.0,382.01 485.5,382.06 486.0,382.11 486.5,382.15 487.0,382.19 487.5,382.23 488.0,382.26 488.5,382.29 489.0,382.32 489.5,382.34 490.0,382.37 490.5,382.39 491.0,382.41 491.5,382.43 492.0,382.44 492.5,382.46 493.0,382.47 493.5,382.48 494.0,382.49 494.5,382.50 495.0,382.51 495.5,382.52 496.0,382.53 496.5,382.54 497.0,382.54 497.5,382.55 498.0,382.55 498.5,382.56 499.0,382.56 499.5,382.57 500.0,382.57 500.5,382.57 501.0,382.58 501.5,382.58 502.0,382.58 502.5,382.58 503.0,382.59 503.5,382.59 504.0,382.59 504.5,382.59 505.0,382.59"/>
<polyline fill="none" stroke="#000080" stroke-width="1.5" points="352.0,382.49 352.5,382.48 353.0,382.47 353.5,382.45 354.0,382.44 354.5,382.42 355.0,382.41 355.5,382.39 356.0,382.37 356.5,382.35 357.0,382.32 357.5,382.30 358.0,382.27 358.5,382.24 359.0,382.21 359.5,382.17 360.0,382.13 360.5,382.09 361.0,382.05 361.5,382.00 362.0,381.95 362.5,381.89 363.0,381.83 363.5,381.77 364.0,381.70 364.5,381.63 365.0,381.55 365.5,381.46 366.0,381.37 366.5,381.27 367.0,381.17 367.5,381.06 368.0,380.94 368.5,380.81 369.0,380.67 369.5,380.53 370.0,380.37 370.5,380.21 371.0,380.03 371.5,379.84 372.0,379.64 372.5,379.43 373.0,379.21 373.5,378.97 374.0,378.72 374.5,378.45 375.0,378.17 375.5,377.87 376.0,377.55 376.5,377.22 377.0,376.86 377.5,376.49 378.0,376.10 378.5,375.69 379.0,375.25 379.5,374.80 380.0,374.32 380.5,373.81 381.0,373.28 381.5,372.73 382.0,372.15 382.5,371.54 383.0,370.90 383.5,370.24 384.0,369.55 384.5,368.82 385.0,368.06 385.5,367.28 386.0,366.45 386.5,365.60 387.0,364.71 387.5,363.79 388.0,362.83 388.5,361.84 389.0,360.81 389.5,359.74 390.0,358.63 390.5,357.49 391.0,356.31 391.5,355.09 392.0,353.83 392.5,352.54 393.0,351.20 393.5,349.83 394.0,348.42 394.5,346.97 395.0,345.48 395.5,343.95 396.0,342.39 396.5,340.79 397.0,339.15 397.5,337.47 398.0,335.76 398.5,334.02 399.0,332.24 399.5,330.43 400.0,328.59 400.5,326.72 401.0,324.82 401.5,322.89 402.0,320.94 402.5,318.96 403.0,316.96 403.5,314.94 404.0,312.90 404.5,310.85 405.0,308.78 405.5,306.70 406.0,304.60 406.5,302.50 407.0,300.40 407.5,298.29 408.0,296.18 408.5,294.08 409.0,291.98 409.5,289.89 410.0,287.81 410.5,285.74 411.0,283.69 411.5,281.67 412.0,279.66 412.5,277.68 413.0,275.72 413.5,273.80 414.0,271.92 414.5,270.07 415.0,268.26 415.5,266.50 416.0,264.78 416.5,263.11 417.0,261.49 417.5,259.93 418.0,258.43 418.5,256.98 419.0,255.60 419.5,254.29 420.0,253.04 420.5,251.86 421.0,250.75 421.5,249.72 422.0,248.76 422.5,247.88 423.0,247.07 423.5,246.35 424.0,245.71 424.5,245.15 425.0,244.68 425.5,244.29 426.0,243.99 426.5,243.77 427.0,243.64 427.5,243.60 428.0,243.64 428.5,243.77 429.0,243.98 429.5,244.28 430.0,244.66 430.5,245.12 431.0,245.67 431.5,246.30 432.0,247.01 432.5,247.79 433.0,248.66 433.5,249.60 434.0,250.61 434.5,251.70 435.0,252.86 435.5,254.08 436.0,255.38 436.5,256.73 437.0,258.15 437.5,259.63 438.0,261.17 438.5,262.75 439.0,264.40 439.5,266.08 440.0,267.82 440.5,269.60 441.0,271.42 441.5,273.28 442.0,275.17 442.5,277.09 443.0,279.05 443.5,281.03 444.0,283.03 444.5,285.05 445.0,287.09 445.5,289.15 446.0,291.21 446.5,293.29 447.0,295.37 447.5,297.46 448.0,299.54 448.5,301.63 449.0,303.71 449.5,305.79 450.0,307.85 450.5,309.91 451.0,311.95 451.5,313.97 452.0,315.98 452.5,317.97 453.0,319.94 453.5,321.89 454.0,323.81 454.5,325.71 455.0,327.57 455.5,329.41 456.0,331.22 456.5,333.00 457.0,334.75 457.5,336.46 458.0,338.14 458.5,339.78 459.0,341.39 459.5,342.97 460.0,344.50 460.5,346.00 461.0,347.46 461.5,348.88 462.0,350.27 462.5,351.62 463.0,352.93 463.5,354.20 464.0,355.43 464.5,356.63 465.0,357.79 465.5,358.91 466.0,360.00 466.5,361.04 467.0,362.06 467.5,363.03 468.0,363.97 468.5,364.88 469.0,365.75 469.5,366.59 470.0,367.40 470.5,368.18 471.0,368.92 471.5,369.64 472.0,370.32 472.5,370.98 473.0,371.60 473.5,372.20 474.0,372.78 474.5,373.32 475.0,373.84 475.5,374.34 476.0,374.82 476.5,375.27 477.0,375.70 477.5,376.10 478.0,376.49 478.5,376.86 479.0,377.21 479.5,377.54 480.0,377.86 480.5,378.15 481.0,378.43 481.5,378.70 482.0,378.95 482.5,379.19 483.0,379.41 483.5,379.62 484.0,379.82 484.5,380.01 485.0,380.18 485.5,380.35 486.0,380.50 486.5,380.65 487.0,380.78 487.5,380.91 488.0,381.03 488.5,381.15 489.0,381.25 489.5,381.35 490.0,381.44 490.5,381.53 491.0,381.61 491.5,381.68 492.0,381.75 492.5,381.82 493.0,381.88 493.5,381.93 494.0,381.98 494.5,382.03 495.0,382.08 495.5,382.12 496.0,382.16 496.5,382.19 497.0,382.23 497.5,382.26 498.0,382.29 498.5,382.31 499.0,382.34 499.5,382.36 500.0,382.38 500.5,382.40 501.0,382.41 501.5,382.43 502.0,382.45 502.5,382.46 503.0,382.47 503.5,382.48 504.0,382.49 504.5,382.50 505.0,382.51"/>
<rect x="481.6" y="221.1" width="56.4" height="72" fill="#fff" stroke="#666" stroke-width="0.6"/>
<path d="M485.2 228.9H511.9" stroke="#000000" stroke-width="1.6"/>
<text x="536.5" y="232.5" class="lg">0%</text>
<path d="M485.2 240.7H511.9" stroke="#ff0000" stroke-width="1.6"/>
<text x="536.5" y="244.3" class="lg">4%</text>
<path d="M485.2 252.5H511.9" stroke="#0000ff" stroke-width="1.6"/>
<text x="536.5" y="256.1" class="lg">8%</text>
<path d="M485.2 264.3H511.9" stroke="#ff00ff" stroke-width="1.6"/>
<text x="536.5" y="267.9" class="lg">12%</text>
<path d="M485.2 276.1H511.9" stroke="#008000" stroke-width="1.6"/>
<text x="536.5" y="279.7" class="lg">16%</text>
<path d="M485.2 287.9H511.9" stroke="#000080" stroke-width="1.6"/>
<text x="536.5" y="291.5" class="lg">20%</text>
<text class="ax" transform="translate(303.7,305) rotate(-90)" text-anchor="middle" textLength="33.5" lengthAdjust="spacingAndGlyphs" style="font-size:8.4px">Intensity</text>
<text class="ax" x="431.8" y="399.5" text-anchor="middle" textLength="48.4" lengthAdjust="spacingAndGlyphs">Diameter /nm</text>
</svg>
<div class="tag" style="left:5.1px;top:217.5px;width:23.6px;height:15.6px;font-size:16.5px;line-height:17.5px">B</div>
<div class="tag" style="left:293.7px;top:217.8px;width:22.6px;height:15.3px;font-size:17px;line-height:17.3px">C</div>
</body></html>
